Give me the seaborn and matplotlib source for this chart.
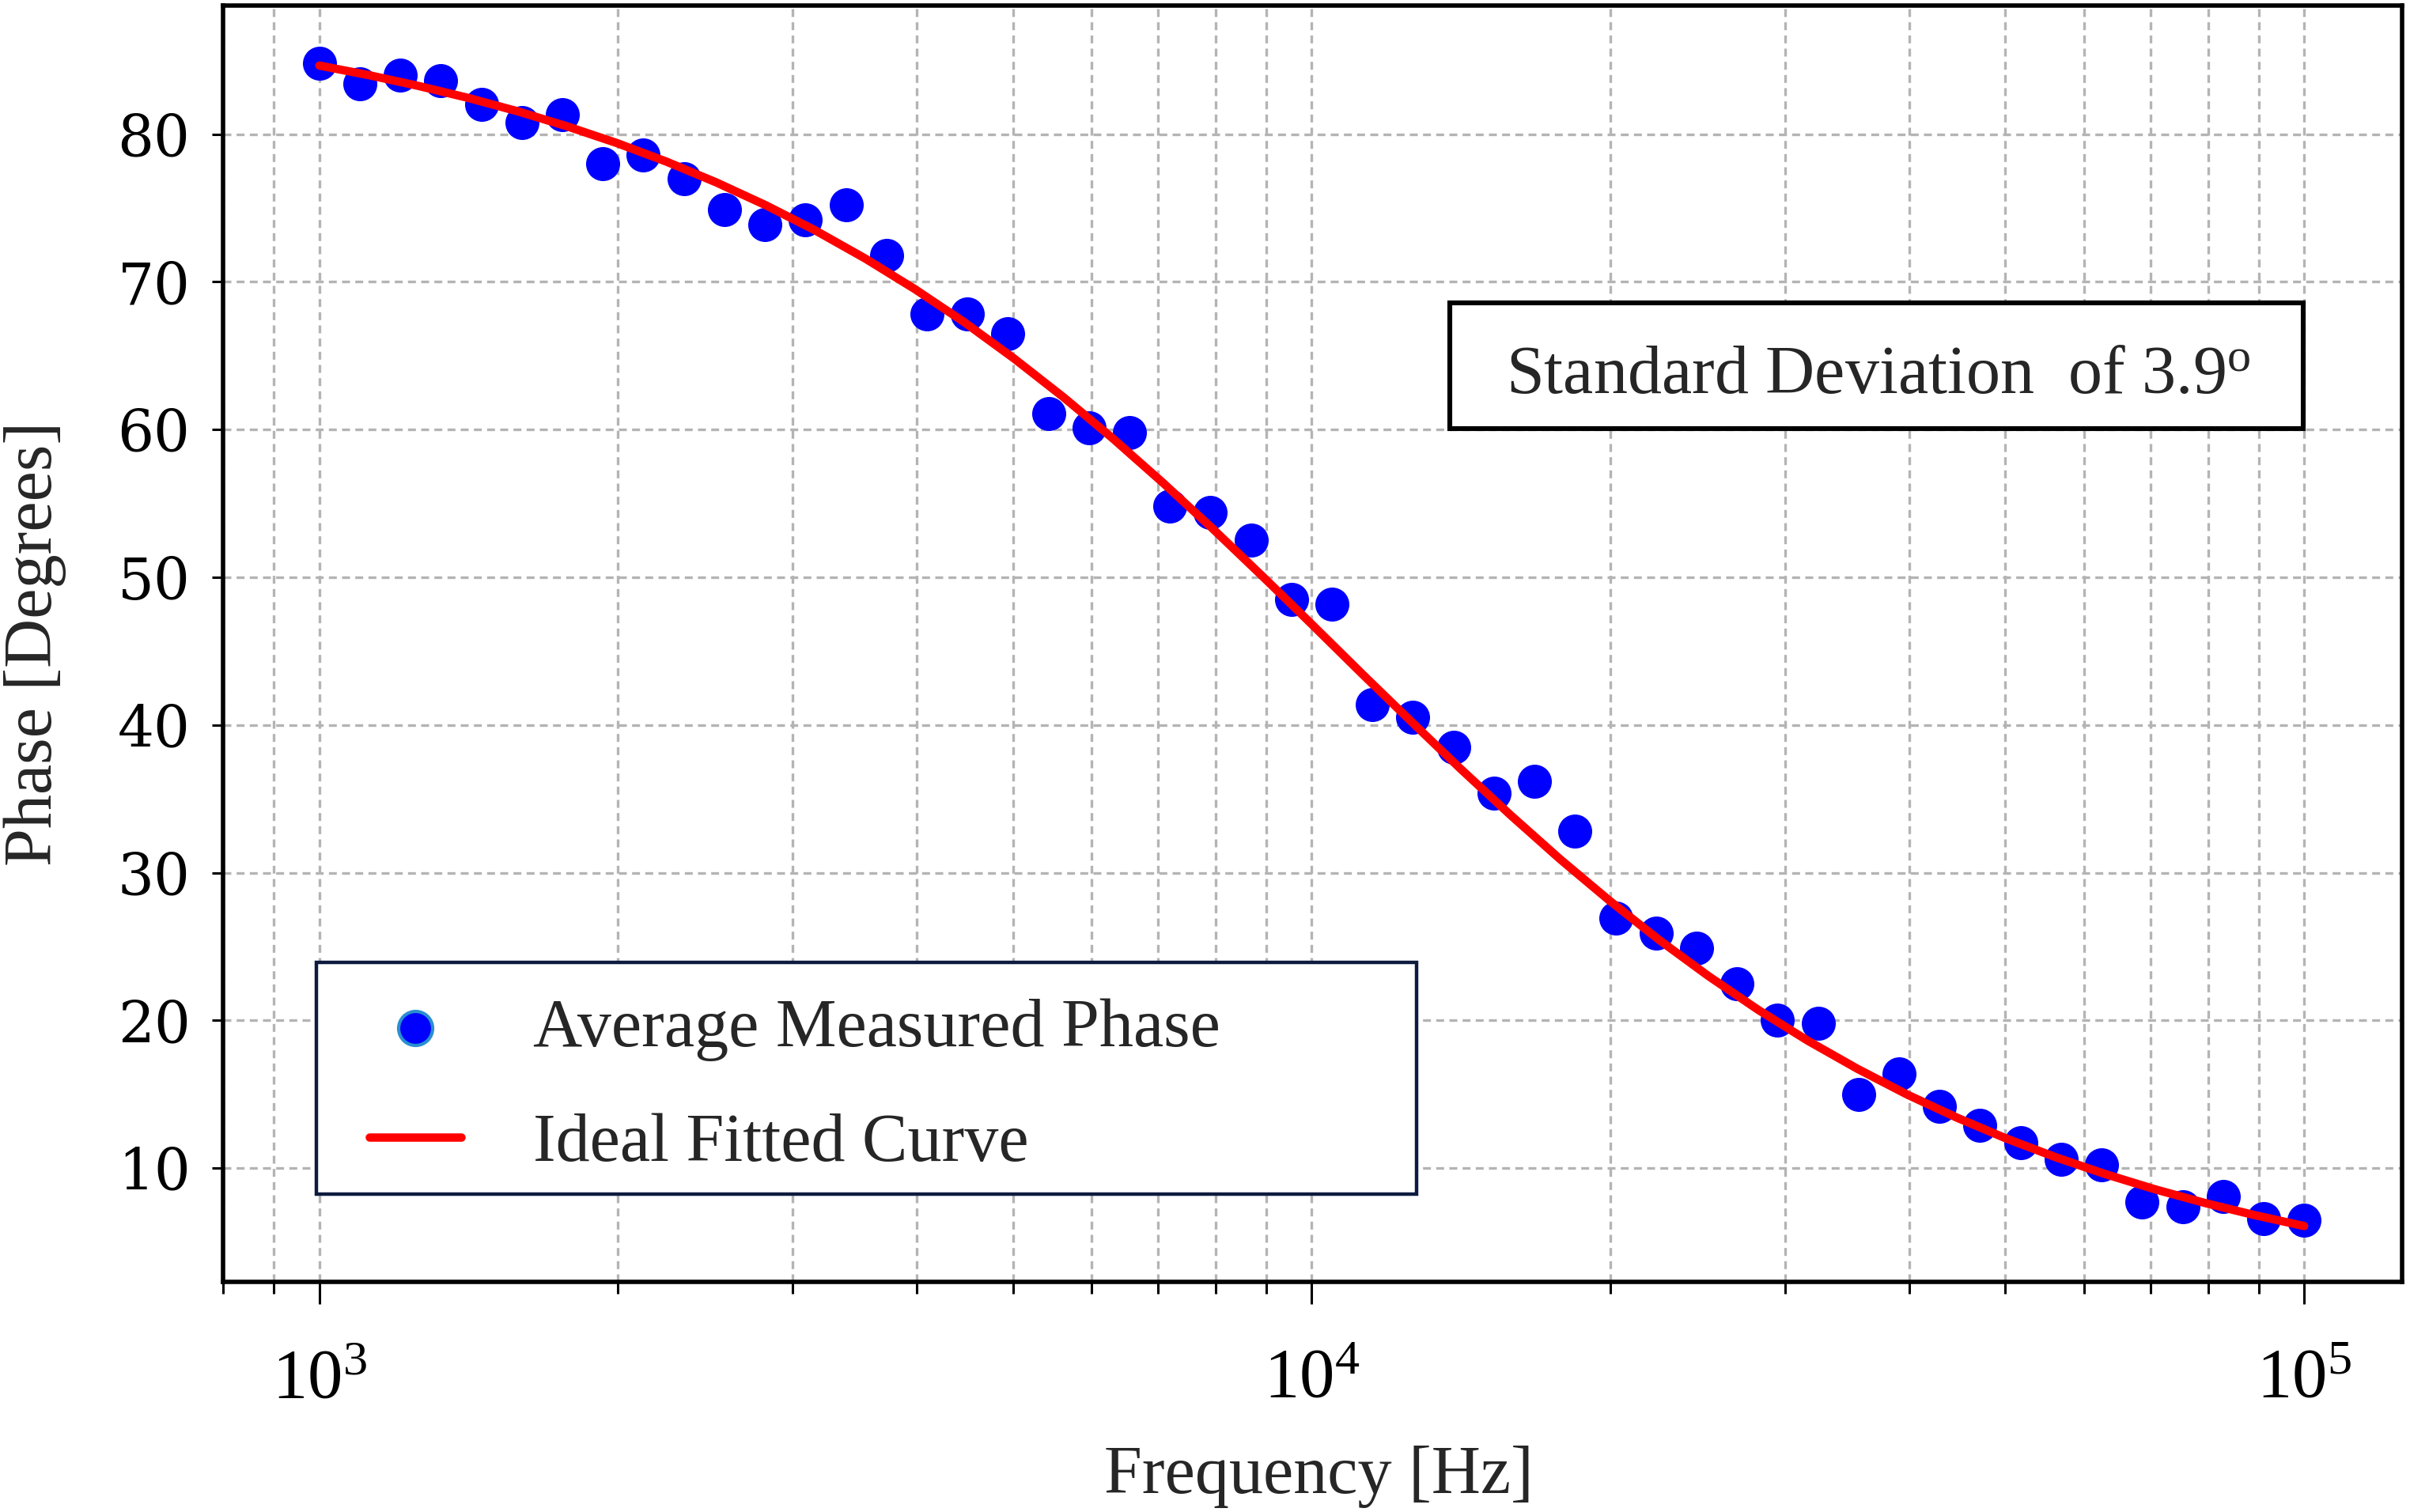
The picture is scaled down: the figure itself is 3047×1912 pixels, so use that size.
import numpy as np
import pandas as pd
import matplotlib
matplotlib.use("Agg")
import matplotlib.pyplot as plt
import seaborn as sns
from matplotlib.patches import Rectangle
from matplotlib.ticker import LogLocator, NullFormatter

# ==========================================
# Data
# ==========================================

freq_measured = np.logspace(3, 5, 50)
phase_measured = [84.8, 83.4, 84.0, 83.6, 82.0, 80.8, 81.3, 78.0, 78.6, 77.0,
                  74.9, 73.9, 74.2, 75.2, 71.8, 67.8, 67.8, 66.5, 61.1, 60.1,
                  59.8, 54.8, 54.4, 52.5, 48.5, 48.2, 41.4, 40.5, 38.5, 35.4,
                  36.2, 32.8, 26.9, 25.9, 24.9, 22.5, 20.0, 19.8, 15.0, 16.4,
                  14.2, 12.9, 11.7, 10.6, 10.2, 7.7, 7.4, 8.1, 6.6, 6.5]

freq_fit = np.logspace(3, 5, 41)
phase_fit = [84.64, 83.99, 83.26, 82.45, 81.54, 80.52, 79.39, 78.13, 76.73, 75.18,
             73.47, 71.58, 69.51, 67.26, 64.81, 62.18, 59.37, 56.40, 53.30, 50.09,
             46.82, 43.51, 40.25, 37.03, 33.92, 30.93, 28.11, 25.45, 22.99, 20.71,
             18.62, 16.72, 14.98, 13.42, 12.00, 10.73, 9.59, 8.56, 7.64, 6.82, 6.08]

y_ticks = [10, 20, 30, 40, 50, 60, 70, 80]
x_ticks = [1e3, 1e4, 1e5]
x_tick_labels = [r"$10^3$", r"$10^4$", r"$10^5$"]

measured = pd.DataFrame({"freq": freq_measured, "phase": phase_measured})
fitted = pd.DataFrame({"freq": freq_fit, "phase": phase_fit})

# ==========================================
# Style
# ==========================================

sns.set_style("white")
plt.rcParams["font.family"] = ["Liberation Serif", "DejaVu Serif"]
plt.rcParams["mathtext.fontset"] = "custom"
plt.rcParams["mathtext.rm"] = "Liberation Serif"
plt.rcParams["mathtext.it"] = "Liberation Serif"
plt.rcParams["mathtext.bf"] = "Liberation Serif"
plt.rcParams["mathtext.default"] = "rm"

fig = plt.figure(figsize=(15.235, 9.56), dpi=200)
ax = fig.add_axes([0.0926, 0.1522, 0.9041, 0.8441])

# ==========================================
# Plot
# ==========================================

sns.scatterplot(
    data=measured, x="freq", y="phase", ax=ax,
    color="#0000ff", s=240, linewidth=0,
    label="Average Measured Phase", zorder=3
)

sns.lineplot(
    data=fitted, x="freq", y="phase", ax=ax,
    color="#ff0000", linewidth=3.8,
    label="Ideal Fitted Curve", zorder=4
)

ax.set_xscale("log")
ax.set_xlim(800, 125500)
ax.set_ylim(2.3, 88.7)

ax.set_xticks(x_ticks, labels=x_tick_labels)
ax.xaxis.set_minor_locator(LogLocator(base=10, subs=np.arange(2, 10)))
ax.xaxis.set_minor_formatter(NullFormatter())
ax.set_yticks(y_ticks)

ax.grid(which="major", axis="both", color="#b4b4b4", linestyle=(0, (3, 2)), linewidth=1.2)
ax.grid(which="minor", axis="x", color="#b4b4b4", linestyle=(0, (3, 2)), linewidth=1.2)
ax.set_axisbelow(True)

for sp in ax.spines.values():
    sp.set_visible(True)
    sp.set_color("black")
    sp.set_linewidth(2.0)

ax.tick_params(axis="x", which="major", direction="out", length=10, width=1.1,
               pad=20, labelsize=32, bottom=True, colors="black")
ax.tick_params(axis="x", which="minor", direction="out", length=5.4, width=1.1,
               bottom=True, colors="black")
ax.tick_params(axis="y", which="major", direction="out", length=5, width=1.1,
               pad=10, left=True, colors="black")
for lab in ax.get_yticklabels():
    lab.set_fontfamily("DejaVu Serif")
    lab.set_fontsize(26)

ax.set_xlabel("Frequency [Hz]", fontsize=31)
ax.set_ylabel("Phase [Degrees]", fontsize=31)
ax.xaxis.set_label_coords(0.503, -0.128)
ax.yaxis.set_label_coords(-0.072, 0.5)

# ==========================================
# Legend
# ==========================================

leg = ax.legend(
    loc="center left", bbox_to_anchor=(0.0672, 0.1527),
    frameon=False, borderpad=0, borderaxespad=0,
    fontsize=31, handlelength=1.34, handletextpad=1.06,
    labelspacing=0.76, markerscale=1.0
)
leg.legend_handles[0].set_edgecolor("#2a8fd0")
leg.legend_handles[0].set_linewidth(1.5)

ax.add_patch(Rectangle((0.0428, 0.0688), 0.5049, 0.1815, transform=ax.transAxes,
                       fill=True, facecolor="white", edgecolor="#0d1b3e",
                       linewidth=1.6, zorder=5))
leg.set_zorder(6)

# ==========================================
# Standard deviation box
# ==========================================

ax.add_patch(Rectangle((0.563, 0.6685), 0.3916, 0.0985, transform=ax.transAxes,
                       fill=True, facecolor="white", edgecolor="black",
                       linewidth=2.2, zorder=5))
ax.text(0.7595, 0.7094, r"Standard Deviation  of 3.9$^{\rm o}$", transform=ax.transAxes,
        ha="center", va="center", fontsize=31, zorder=6)

plt.savefig("out.png", dpi=200)
plt.close()
